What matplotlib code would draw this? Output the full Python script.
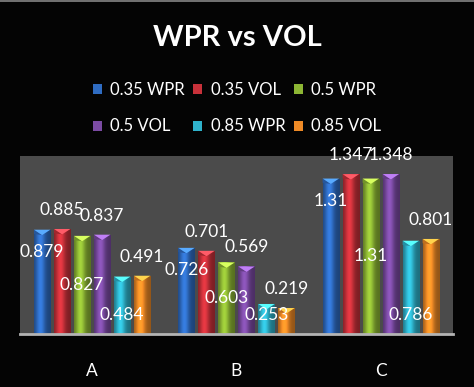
import numpy as np
import matplotlib
matplotlib.use("Agg")
import matplotlib.pyplot as plt
from matplotlib.colors import to_rgb
from matplotlib.patches import Polygon

categories = ["A", "B", "C"]
series_names = ["0.35 WPR", "0.35 VOL", "0.5 WPR", "0.5 VOL", "0.85 WPR", "0.85 VOL"]
wpr_035 = [0.879, 0.726, 1.31]
vol_035 = [0.885, 0.701, 1.347]
wpr_05 = [0.827, 0.603, 1.31]
vol_05 = [0.837, 0.569, 1.348]
wpr_085 = [0.484, 0.253, 0.786]
vol_085 = [0.491, 0.219, 0.801]
series_values = [wpr_035, vol_035, wpr_05, vol_05, wpr_085, vol_085]

colors = ["#2f6cc2", "#c8313a", "#8db634", "#7b4ba3", "#2fb3cc", "#ee8a26"]
# Excel-like data label positions per series
label_modes = ["inside_end", "outside_end", "center", "outside_end", "inside_base", "outside_end"]

FONT = "Lato"
plt.rcParams["font.family"] = [FONT, "DejaVu Sans"]
LBL = 12.5

fig = plt.figure(figsize=(4.74, 3.87), dpi=100, facecolor="#040404")
ax = fig.add_axes([20 / 474, 53 / 387, 433 / 474, 178 / 387])
ax.set_facecolor("#4b4b4b")

n = len(series_names)
slot = 0.1386
width = 0.114
x = np.arange(len(categories))

handles = []
for i, (name, vals, col) in enumerate(zip(series_names, series_values, colors)):
    offs = (i - (n - 1) / 2) * slot
    bars = ax.bar(x + offs, vals, width, color=col, label=name, zorder=2)
    handles.append(bars)
    base = np.array(to_rgb(col))
    # cylinder-like shading
    t = np.linspace(0, 1, 64)
    shade = 0.62 + 0.55 * np.exp(-((t - 0.38) / 0.28) ** 2)
    grad = np.clip(base[None, :] * shade[:, None], 0, 1)[None, :, :]
    for b in bars:
        x0, y0 = b.get_x(), b.get_y()
        w, h = b.get_width(), b.get_height()
        im = ax.imshow(grad, extent=[x0, x0 + w, y0, y0 + h], aspect="auto",
                       zorder=2.5, interpolation="bilinear")
        im.set_clip_path(b)
        # lighter chevron cap at the top
        cap_h = 0.045
        cap = Polygon([[x0, y0 + h], [x0 + w, y0 + h], [x0 + w * 0.5, y0 + h - cap_h]],
                      closed=True, facecolor=np.clip(base * 1.35 + 0.1, 0, 1),
                      edgecolor="none", zorder=2.7)
        ax.add_patch(cap)
        top = np.clip(base * 0.8, 0, 1)
        ax.add_patch(Polygon([[x0, y0 + h], [x0, y0 + h - cap_h * 0.8], [x0 + w * 0.5, y0 + h - cap_h]],
                             closed=True, facecolor=top, edgecolor="none", zorder=2.6))
    # data labels
    mode = label_modes[i]
    for b, v in zip(bars, vals):
        cx = b.get_x() + b.get_width() / 2
        txt = f"{v:g}"
        if mode == "outside_end":
            ax.annotate(txt, (cx, v), xytext=(0, 19), textcoords="offset pixels",
                        ha="center", va="center", color="white", fontsize=LBL, zorder=5,
                        annotation_clip=False)
        elif mode == "inside_end":
            ax.annotate(txt, (cx, v), xytext=(0, -22), textcoords="offset pixels",
                        ha="center", va="center", color="white", fontsize=LBL, zorder=5)
        elif mode == "center":
            ax.annotate(txt, (cx, v / 2), ha="center", va="center", color="white",
                        fontsize=LBL, zorder=5)
        else:
            ax.annotate(txt, (cx, 0), xytext=(0, 19), textcoords="offset pixels",
                        ha="center", va="center", color="white", fontsize=LBL, zorder=5)

ax.set_xlim(-0.5, len(categories) - 0.5)
ax.set_ylim(0, 1.5)
ax.set_yticks([])
ax.set_xticks(x)
ax.set_xticklabels(categories, color="white", fontsize=LBL)
ax.tick_params(axis="x", length=0, pad=21)
for s in ["top", "right", "left"]:
    ax.spines[s].set_visible(False)
ax.spines["bottom"].set_color("#b4b4b4")
ax.spines["bottom"].set_linewidth(2)
ax.spines["bottom"].set_zorder(4)

fig.text(0.5, 1 - 38 / 387, "WPR vs VOL", ha="center", va="center", color="white",
         fontsize=21, fontweight="bold")

order = [0, 3, 1, 4, 2, 5]
leg = fig.legend([handles[k] for k in order], [series_names[k] for k in order],
                 ncol=3, loc="center", bbox_to_anchor=(0.5, 1 - 108 / 387),
                 frameon=False, fontsize=12, labelcolor="white",
                 handlelength=0.55, handleheight=0.55, handletextpad=0.5,
                 columnspacing=0.5, labelspacing=1.25)

# thin gray strip at the top of the image
fig.patches.append(matplotlib.patches.Rectangle((0, 1 - 2 / 387), 1, 2 / 387,
                   transform=fig.transFigure, facecolor="#707070", edgecolor="none"))

fig.savefig("out.png", dpi=100, facecolor=fig.get_facecolor())
